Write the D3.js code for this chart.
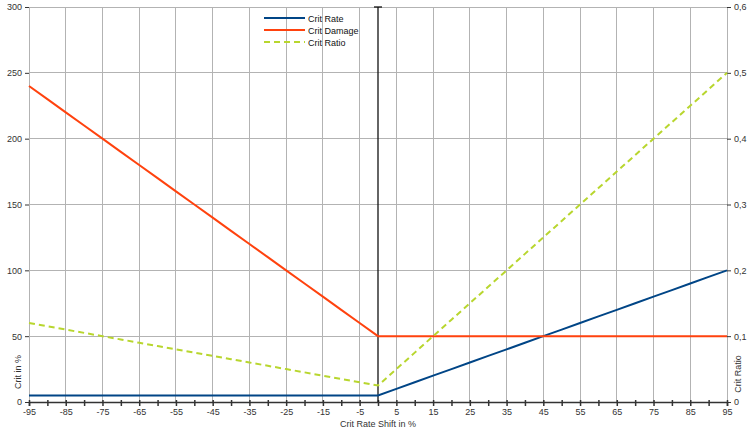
<!DOCTYPE html>
<html>
<head>
<meta charset="utf-8">
<script src="https://cdn.jsdelivr.net/npm/d3@7"></script>
<style>
  body { margin: 0; background: #fff; }
  text { font-family: "Liberation Sans", Arial, sans-serif; }
</style>
</head>
<body>
<script>
// Chart data
var shift = [-95, -90, -85, -80, -75, -70, -65, -60, -55, -50, -45, -40, -35, -30, -25, -20, -15, -10, -5, 0,
             5, 10, 15, 20, 25, 30, 35, 40, 45, 50, 55, 60, 65, 70, 75, 80, 85, 90, 95];
var critRate = [5, 5, 5, 5, 5, 5, 5, 5, 5, 5, 5, 5, 5, 5, 5, 5, 5, 5, 5, 5,
                10, 15, 20, 25, 30, 35, 40, 45, 50, 55, 60, 65, 70, 75, 80, 85, 90, 95, 100];
var critDamage = [240, 230, 220, 210, 200, 190, 180, 170, 160, 150, 140, 130, 120, 110, 100, 90, 80, 70, 60, 50,
                  50, 50, 50, 50, 50, 50, 50, 50, 50, 50, 50, 50, 50, 50, 50, 50, 50, 50, 50];
var critRatio = [0.12, 0.115, 0.11, 0.105, 0.1, 0.095, 0.09, 0.085, 0.08, 0.075, 0.07, 0.065, 0.06, 0.055, 0.05, 0.045, 0.04, 0.035, 0.03, 0.025,
                 0.05, 0.075, 0.1, 0.125, 0.15, 0.175, 0.2, 0.225, 0.25, 0.275, 0.3, 0.325, 0.35, 0.375, 0.4, 0.425, 0.45, 0.475, 0.5];
var xTickLabels = [-95, -85, -75, -65, -55, -45, -35, -25, -15, -5, 5, 15, 25, 35, 45, 55, 65, 75, 85, 95];
var leftTicks = [0, 50, 100, 150, 200, 250, 300];
var rightTicks = [0, 0.1, 0.2, 0.3, 0.4, 0.5, 0.6];

var width = 755;
var height = 433;
var margin = {top: 7, right: 28, bottom: 31, left: 29};
var fontSize = "9px";

var svg = d3.select("body")
    .append("svg")
    .attr("width", width)
    .attr("height", height);

var x = d3.scaleLinear().domain([-95, 95]).range([margin.left, width - margin.right]);
var yL = d3.scaleLinear().domain([0, 300]).range([height - margin.bottom, margin.top]);
var yR = d3.scaleLinear().domain([0, 0.6]).range([height - margin.bottom, margin.top]);

var gridColor = "#b3b3b3";

// Gridlines
svg.append("g")
    .selectAll("line")
    .data(leftTicks)
    .enter()
    .append("line")
    .attr("x1", x(-95)).attr("x2", x(95))
    .attr("y1", d => yL(d)).attr("y2", d => yL(d))
    .attr("stroke", gridColor)
    .attr("stroke-width", 1)
    .attr("shape-rendering", "crispEdges");

svg.append("g")
    .selectAll("line")
    .data(xTickLabels)
    .enter()
    .append("line")
    .attr("x1", d => x(d)).attr("x2", d => x(d))
    .attr("y1", yL(0)).attr("y2", yL(300))
    .attr("stroke", gridColor)
    .attr("stroke-width", 1)
    .attr("shape-rendering", "crispEdges");

// Left axis
var leftAxis = svg.append("g")
    .attr("transform", "translate(" + margin.left + ",0)")
    .call(d3.axisLeft(yL).tickValues(leftTicks).tickSize(4).tickPadding(3));
leftAxis.select(".domain").attr("stroke", gridColor);
leftAxis.selectAll(".tick line").attr("stroke", "#333");
leftAxis.selectAll("text").attr("font-size", fontSize).attr("fill", "#333")
    .attr("font-family", "Liberation Sans, Arial, sans-serif");

// Right axis
var rightAxis = svg.append("g")
    .attr("transform", "translate(" + (width - margin.right) + ",0)")
    .call(d3.axisRight(yR).tickValues(rightTicks).tickSize(4).tickPadding(3)
        .tickFormat(d => d === 0 ? "0" : d3.format(".1f")(d).replace(".", ",")));
rightAxis.select(".domain").attr("stroke", gridColor);
rightAxis.selectAll(".tick line").attr("stroke", "#333");
rightAxis.selectAll("text").attr("font-size", fontSize).attr("fill", "#333")
    .attr("font-family", "Liberation Sans, Arial, sans-serif");

// Bottom axis: labels every 10, tick marks every 5
var bottomAxis = svg.append("g")
    .attr("transform", "translate(0," + (height - margin.bottom) + ")")
    .call(d3.axisBottom(x).tickValues(shift).tickSize(4).tickPadding(3)
        .tickFormat(d => xTickLabels.indexOf(d) >= 0 ? d : ""));
bottomAxis.select(".domain").attr("stroke", "#333").attr("stroke-width", 1.5);
bottomAxis.selectAll(".tick line").attr("stroke", "#333").attr("stroke-width", 1.5).attr("y1", -2);
bottomAxis.selectAll("text").attr("font-size", fontSize).attr("fill", "#333")
    .attr("font-family", "Liberation Sans, Arial, sans-serif");

// Vertical line at zero shift
svg.append("line")
    .attr("x1", x(0)).attr("x2", x(0))
    .attr("y1", yL(300)).attr("y2", yL(0))
    .attr("stroke", "#111")
    .attr("stroke-width", 1.3);
svg.append("line")
    .attr("x1", x(0) - 4).attr("x2", x(0) + 4)
    .attr("y1", yL(300)).attr("y2", yL(300))
    .attr("stroke", "#111")
    .attr("stroke-width", 1.3);

// Series lines
var pts = shift.map((s, i) => ({s: s, rate: critRate[i], dmg: critDamage[i], ratio: critRatio[i]}));

var series = [
    {name: "Crit Rate", key: "rate", scale: yL, color: "#004586", dash: null},
    {name: "Crit Damage", key: "dmg", scale: yL, color: "#ff420e", dash: null},
    {name: "Crit Ratio", key: "ratio", scale: yR, color: "#b8d62e", dash: "6,4"}
];

series.forEach(function(se) {
    var line = d3.line()
        .x(d => x(d.s))
        .y(d => se.scale(d[se.key]));
    svg.append("path")
        .datum(pts)
        .attr("d", line)
        .attr("fill", "none")
        .attr("stroke", se.color)
        .attr("stroke-width", 2)
        .attr("stroke-dasharray", se.dash);
});

// Legend
var legend = svg.append("g")
    .selectAll("g")
    .data(series)
    .enter()
    .append("g")
    .attr("transform", (d, i) => "translate(264," + (18 + i * 12) + ")");
legend.append("line")
    .attr("x1", 0).attr("x2", 41)
    .attr("y1", 0).attr("y2", 0)
    .attr("stroke", d => d.color)
    .attr("stroke-width", 2)
    .attr("stroke-dasharray", d => d.dash);
legend.append("text")
    .attr("x", 44)
    .attr("y", 3.5)
    .attr("font-size", fontSize)
    .attr("fill", "#111")
    .text(d => d.name);

// Axis titles
svg.append("text")
    .attr("x", x(0))
    .attr("y", 427)
    .attr("text-anchor", "middle")
    .attr("font-size", fontSize)
    .attr("fill", "#333")
    .text("Crit Rate Shift in %");

svg.append("text")
    .attr("transform", "translate(21,372) rotate(-90)")
    .attr("text-anchor", "middle")
    .attr("font-size", fontSize)
    .attr("fill", "#333")
    .text("Crit in %");

svg.append("text")
    .attr("transform", "translate(741,374) rotate(-90)")
    .attr("text-anchor", "middle")
    .attr("font-size", fontSize)
    .attr("fill", "#333")
    .text("Crit Ratio");
</script>
</body>
</html>
